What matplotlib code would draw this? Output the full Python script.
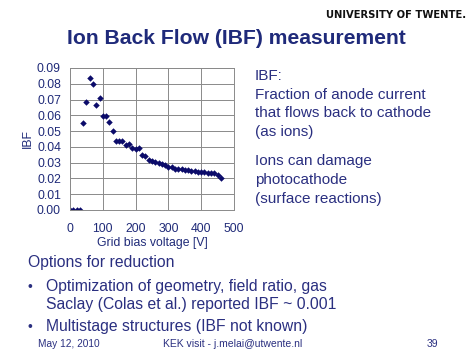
import matplotlib
matplotlib.use("Agg")
import matplotlib.pyplot as plt

voltage = [0, 10, 20, 30, 40, 50, 60, 70, 80, 90, 100, 110, 120, 130, 140, 150,
           160, 170, 180, 190, 200, 210, 220, 230, 240, 250, 260, 270, 280, 290,
           300, 310, 320, 330, 340, 350, 360, 370, 380, 390, 400, 410, 420, 430,
           440, 450, 460]
ibf = [0, 0, 0, 0, 0.0552, 0.0683, 0.0837, 0.0796, 0.0665, 0.0710, 0.0596, 0.0598,
       0.0556, 0.0500, 0.0437, 0.0437, 0.0440, 0.0413, 0.0420, 0.0390, 0.0387, 0.0392,
       0.0350, 0.0345, 0.0320, 0.0312, 0.0305, 0.0298, 0.0290, 0.0283, 0.0275, 0.0270,
       0.0263, 0.0260, 0.0258, 0.0255, 0.0252, 0.0248, 0.0246, 0.0243, 0.0241, 0.0240,
       0.0237, 0.0233, 0.0233, 0.0225, 0.0205]
xticks = [0, 100, 200, 300, 400, 500]
yticks = [0.00, 0.01, 0.02, 0.03, 0.04, 0.05, 0.06, 0.07, 0.08, 0.09]

plt.rcParams['font.family'] = ['Liberation Sans', 'DejaVu Sans']
navy = '#1f2a78'
txt = '#2a2f80'

fig = plt.figure(figsize=(4.74, 3.55), dpi=100)
fig.patch.set_facecolor('white')
ax = fig.add_axes([70/474, 1-210/355, 164/474, 142/355])
ax.plot(voltage, ibf, linestyle='none', marker='D', markersize=3.3,
        color='#0b0b6a', markeredgewidth=0)
ax.set_xlim(0, 500)
ax.set_ylim(0, 0.09)
ax.set_xticks(xticks)
ax.set_yticks(yticks)
ax.set_yticklabels([f"{v:.2f}" for v in yticks])
ax.grid(True, color='#8a8a8a', linewidth=0.7)
for s in ax.spines.values():
    s.set_color('#8a8a8a')
    s.set_linewidth(0.7)
ax.tick_params(axis='y', length=0, labelsize=8.8, labelcolor=navy, pad=6.5)
ax.tick_params(axis='x', length=0, labelsize=8.8, labelcolor=navy, pad=9.5)
ax.set_xlabel('Grid bias voltage [V]', fontsize=8.8, color=navy, labelpad=1)
ax.set_ylabel('IBF', fontsize=8.8, color=navy, labelpad=2.5)

fig.text(466/474, 1-15/355, 'UNIVERSITY OF TWENTE.', ha='right', va='center',
         fontsize=8, fontweight='bold', color='#111111',
         family=['DejaVu Sans'], fontstretch='condensed')
fig.text(236/474, 1-38/355, 'Ion Back Flow (IBF) measurement', ha='center',
         va='center', fontsize=15.2, fontweight='bold', color='#1f2a7a')

right_lines = [('IBF:', 76), ('Fraction of anode current', 95),
               ('that flows back to cathode', 113), ('(as ions)', 132),
               ('Ions can damage', 161), ('photocathode', 180),
               ('(surface reactions)', 199)]
for s, y in right_lines:
    fig.text(255/474, 1-y/355, s, ha='left', va='center', fontsize=11, color=txt)

fig.text(28/474, 1-262/355, 'Options for reduction', ha='left', va='center',
         fontsize=11.3, color=txt)
fig.text(28/474, 1-287/355, '•', ha='left', va='center', fontsize=10, color=txt)
fig.text(46/474, 1-287/355, 'Optimization of geometry, field ratio, gas',
         ha='left', va='center', fontsize=11.3, color=txt)
fig.text(46/474, 1-305/355, 'Saclay (Colas et al.) reported IBF ~ 0.001',
         ha='left', va='center', fontsize=11.3, color=txt)
fig.text(28/474, 1-327/355, '•', ha='left', va='center', fontsize=10, color=txt)
fig.text(46/474, 1-327/355, 'Multistage structures (IBF not known)',
         ha='left', va='center', fontsize=11.3, color=txt)

fig.text(38/474, 1-344/355, 'May 12, 2010', ha='left', va='center',
         fontsize=7.3, color=txt)
fig.text(163/474, 1-344/355, 'KEK visit - j.melai@utwente.nl', ha='left',
         va='center', fontsize=7.5, color=txt)
fig.text(438/474, 1-344/355, '39', ha='right', va='center', fontsize=7.5, color=txt)

fig.savefig('out.png', dpi=100)
